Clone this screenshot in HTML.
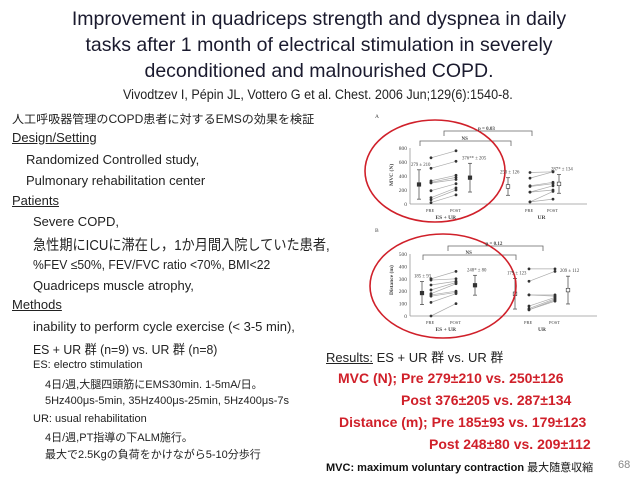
<!DOCTYPE html>
<html><head><meta charset="utf-8">
<style>
body{margin:0;width:638px;height:479px;overflow:hidden;background:#fff;position:relative;font-family:"Liberation Sans","Noto Sans CJK JP",sans-serif;color:#222}
.t{position:absolute;white-space:nowrap;transform-origin:0 0}
.title{left:0;width:638px;text-align:center;font-size:19.5px;color:#1a1a2e}
.m{font-size:13px}
.s{font-size:11px}
.r{color:#d0202a;font-weight:bold;font-size:14px}
u{text-decoration:underline}
svg{position:absolute;left:0;top:0}
</style></head><body>
<div class="t title" style="top:8px">Improvement in quadriceps strength and dyspnea in daily</div>
<div class="t title" style="top:34px">tasks after 1 month of electrical stimulation in severely</div>
<div class="t title" style="top:60px">deconditioned and malnourished COPD.</div>
<div class="t fit" data-w="390" style="top:87px;left:123px;font-size:13.5px">Vivodtzev I, Pépin JL, Vottero G et al. Chest. 2006 Jun;129(6):1540-8.</div>

<div class="t fit" data-w="302" style="top:111px;left:12px;font-size:11.5px">人工呼吸器管理のCOPD患者に対するEMSの効果を検証</div>
<div class="t m" style="top:130px;left:12px"><u>Design/Setting</u></div>
<div class="t m" style="top:152px;left:26px">Randomized Controlled study,</div>
<div class="t m" style="top:173px;left:26px">Pulmonary rehabilitation center</div>
<div class="t m" style="top:193px;left:12px"><u>Patients</u></div>
<div class="t m" style="top:214px;left:33px">Severe COPD,</div>
<div class="t fit" data-w="297" style="top:234px;left:33px;font-size:14.5px">急性期にICUに滞在し，1か月間入院していた患者,</div>
<div class="t fit" data-w="237" style="top:257px;left:33px;font-size:13px">%FEV ≤50%, FEV/FVC ratio &lt;70%, BMI&lt;22</div>
<div class="t m" style="top:278px;left:33px">Quadriceps muscle atrophy,</div>
<div class="t m" style="top:297px;left:12px"><u>Methods</u></div>
<div class="t m" style="top:319px;left:33px">inability to perform cycle exercise (&lt; 3-5 min),</div>
<div class="t fit" data-w="184" style="top:339px;left:33px;font-size:13px">ES + UR 群 (n=9) vs. UR 群 (n=8)</div>
<div class="t s" style="top:359px;left:33px">ES: electro stimulation</div>
<div class="t s" style="top:376px;left:45px">4日/週,大腿四頭筋にEMS30min. 1-5mA/日。</div>
<div class="t s" style="top:395px;left:45px">5Hz400μs-5min, 35Hz400μs-25min, 5Hz400μs-7s</div>
<div class="t s" style="top:413px;left:33px">UR: usual rehabilitation</div>
<div class="t s" style="top:429px;left:45px">4日/週,PT指導の下ALM施行。</div>
<div class="t s" style="top:446px;left:45px">最大で2.5Kgの負荷をかけながら5-10分歩行</div>

<div class="t m" style="top:347px;left:326px"><u>Results:</u> ES + UR 群 vs. UR 群</div>
<div class="t r" style="top:370px;left:338px">MVC (N); Pre 279±210 vs. 250±126</div>
<div class="t r" style="top:392px;left:401px">Post 376±205 vs. 287±134</div>
<div class="t r" style="top:414px;left:339px">Distance (m); Pre 185±93 vs. 179±123</div>
<div class="t r" style="top:436px;left:429px">Post 248±80 vs. 209±112</div>
<div class="t" style="top:459px;left:326px;font-size:11px;font-weight:bold;color:#111">MVC: maximum voluntary contraction <span style="font-weight:normal">最大随意収縮</span></div>
<div class="t" style="top:459px;left:618px;font-size:11px;color:#888">68</div>

<svg id="chart" width="638" height="479" viewBox="0 0 638 479"></svg>
<script>
const mvcEsPre=[660,510,330,310,300,190,90,60,20];
const mvcEsPost=[760,610,410,380,350,290,230,200,130];
const mvcUrPre=[450,370,260,250,170,170,30,30];
const mvcUrPost=[460,460,310,290,260,200,180,70];
const distEsPre=[300,290,250,210,180,170,160,110,0];
const distEsPost=[360,300,280,270,260,200,190,180,100];
const distUrPre=[380,280,170,170,80,60,50,50];
const distUrPost=[380,360,170,160,150,140,130,120];
const mvcSummary=[[279,210],[376,205],[250,126],[287,134]];
const distSummary=[[185,93],[248,80],[179,123],[209,112]];
const mvcTicks=[0,200,400,600,800];
const distTicks=[0,100,200,300,400,500];
const mvcLabels=["279 ± 210","376** ± 205","250 ± 126","287* ± 134"];
const distLabels=["185 ± 93","248* ± 80","179 ± 123","209 ± 112"];

document.querySelectorAll('.fit').forEach(el=>{const w=el.scrollWidth;const tw=+el.getAttribute('data-w');el.style.transform='scaleX('+(tw/w)+')';});

const svg=document.getElementById('chart');
const NS='http://www.w3.org/2000/svg';
function mk(tag,attrs,parent){const e=document.createElementNS(NS,tag);for(const k in attrs)e.setAttribute(k,attrs[k]);(parent||svg).appendChild(e);return e;}
function txt(x,y,s,size,name,extra){const t=mk('text',Object.assign({x:x,y:y,'font-size':size,'font-family':'Liberation Serif, serif',fill:'#444'},extra||{}));t.textContent=s;


return t;}

function panel(cfg){
  const y=v=>cfg.y0-v*cfg.scale;
  const g=mk('g',{});
  
  
  mk('line',{x1:cfg.ax,y1:cfg.y0,x2:cfg.ax,y2:y(cfg.ticks[cfg.ticks.length-1]),stroke:'#999','stroke-width':0.8},g);
  mk('line',{x1:cfg.ax,y1:cfg.y0,x2:cfg.xend,y2:cfg.y0,stroke:'#999','stroke-width':0.8},g);
  cfg.ticks.forEach(v=>{txt(cfg.ax-3,y(v)+2,String(v),5.5,'y-tick',{'text-anchor':'end'});});
  const pairs=[[cfg.esPre,cfg.esPost,cfg.xs[0],cfg.xs[1]],[cfg.urPre,cfg.urPost,cfg.xs[2],cfg.xs[3]]];
  pairs.forEach((p,gi)=>{p[0].forEach((v,i)=>{
    const l=mk('line',{x1:p[2],y1:y(v),x2:p[3],y2:y(p[1][i]),stroke:'#aaa','stroke-width':0.7},g);
    
    
    [[p[2],v],[p[3],p[1][i]]].forEach(q=>{const c=mk('circle',{cx:q[0],cy:y(q[1]),r:1.4,fill:'#333'},g);
      
      });
  });});
  cfg.summary.forEach((s,i)=>{const x=cfg.bx[i];
    mk('line',{x1:x,y1:y(Math.max(0,s[0]-s[1])),x2:x,y2:y(s[0]+s[1]),stroke:'#555','stroke-width':0.8},g);
    mk('line',{x1:x-2,y1:y(s[0]+s[1]),x2:x+2,y2:y(s[0]+s[1]),stroke:'#555','stroke-width':0.8},g);
    mk('line',{x1:x-2,y1:y(Math.max(0,s[0]-s[1])),x2:x+2,y2:y(Math.max(0,s[0]-s[1])),stroke:'#555','stroke-width':0.8},g);
    const m=mk('rect',{x:x-1.8,y:y(s[0])-1.8,width:3.6,height:3.6,fill:i<2?'#333':'#fff',stroke:'#333','stroke-width':0.6},g);
    
    
    txt(x-8,y(s[0]+s[1])-4,cfg.labels[i],4.8,'mean-label');
  });
  txt(cfg.xs[0]-5,cfg.y0+8,'PRE',4.5,'x-label-pre');
  txt(cfg.xs[1]-6,cfg.y0+8,'POST',4.5,'x-label-post');
  txt(cfg.xs[2]-5,cfg.y0+8,'PRE',4.5,'x-label-pre-ur');
  txt(cfg.xs[3]-6,cfg.y0+8,'POST',4.5,'x-label-post-ur');
  txt((cfg.xs[0]+cfg.xs[1])/2-8,cfg.y0+15,'ES + UR',5.5,'group-label-es',{'font-weight':'bold'});
  txt((cfg.xs[2]+cfg.xs[3])/2-4,cfg.y0+15,'UR',5.5,'group-label-ur',{'font-weight':'bold'});
  txt(cfg.ax-17,(cfg.y0+y(cfg.ticks[cfg.ticks.length-1]))/2+10,cfg.ytitle,5.5,'y-axis-title',{transform:`rotate(-90 ${cfg.ax-17} ${(cfg.y0+y(cfg.ticks[cfg.ticks.length-1]))/2+10})`,'font-weight':'bold'});
  const b=cfg.br;
  mk('polyline',{points:`${b.ns[0]},${b.ns[2]+5} ${b.ns[0]},${b.ns[2]} ${b.ns[1]},${b.ns[2]} ${b.ns[1]},${b.ns[2]+5}`,fill:'none',stroke:'#666','stroke-width':0.8},g);
  mk('polyline',{points:`${b.p[0]},${b.p[2]+5} ${b.p[0]},${b.p[2]} ${b.p[1]},${b.p[2]} ${b.p[1]},${b.p[2]+5}`,fill:'none',stroke:'#666','stroke-width':0.8},g);
  txt((b.ns[0]+b.ns[1])/2-4,b.ns[2]-1,'NS',5,'ns-label',{'font-weight':'bold'});
  txt((b.p[0]+b.p[1])/2-10,b.p[2]-1,cfg.ptext,5,'p-value-label',{'font-weight':'bold'});
  txt(cfg.ax-35,cfg.letterY,cfg.letter,5.5,'panel-letter');
  const e=mk('ellipse',{cx:cfg.ell[0],cy:cfg.ell[1],rx:cfg.ell[2],ry:cfg.ell[3],fill:'none',stroke:'#d0202a','stroke-width':1.6},g);
  
  
}
panel({name:'panel-a-mvc',y0:204,scale:56/800,ax:410,xend:587,ticks:mvcTicks,esPre:mvcEsPre,esPost:mvcEsPost,urPre:mvcUrPre,urPost:mvcUrPost,
  xs:[431,456,530,553],bx:[419,470,508,559],summary:mvcSummary,labels:mvcLabels,ytitle:'MVC (N)',
  br:{ns:[420,511,141],p:[444,532,131]},ptext:'p = 0.03',letter:'A',letterY:118,ell:[435,171,70,51]});
panel({name:'panel-b-distance',y0:316,scale:62/500,ax:410,xend:597,ticks:distTicks,esPre:distEsPre,esPost:distEsPost,urPre:distUrPre,urPost:distUrPost,
  xs:[431,456,529,555],bx:[422,475,515,568],summary:distSummary,labels:distLabels,ytitle:'Distance (m)',
  br:{ns:[423,516,255],p:[448,543,246]},ptext:'p = 0.12',letter:'B',letterY:232,ell:[443,286,73,52]});
</script>
</body></html>
